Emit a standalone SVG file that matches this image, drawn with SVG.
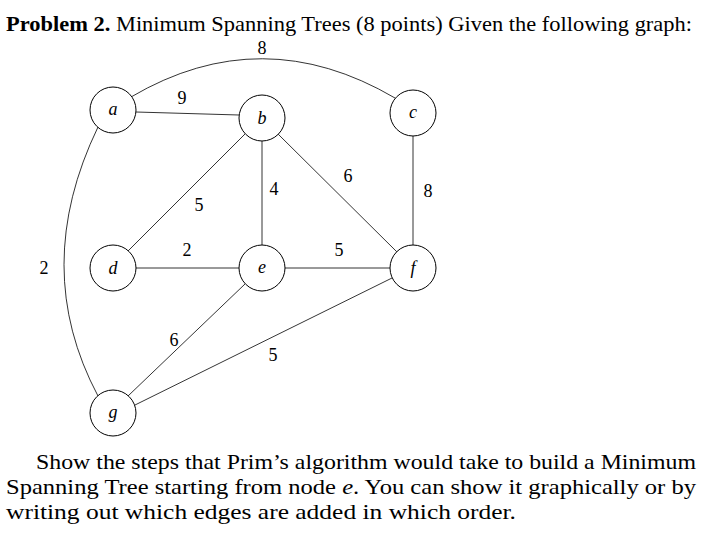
<svg xmlns="http://www.w3.org/2000/svg" width="708" height="538" viewBox="0 0 708 538">
<style>
text{font-family:"Liberation Serif",serif;fill:#000}
.t{font-size:21px}
.l{font-size:18px}
.n{font-size:18px;font-style:italic}
circle{fill:#fff;stroke:#000;stroke-width:1}
.e line,.e path{stroke:#000;stroke-width:0.8;fill:none}
</style>
<rect width="708" height="538" fill="#fff"/>
<text class="t" x="6" y="31" textLength="686" lengthAdjust="spacingAndGlyphs"><tspan font-weight="bold">Problem 2.</tspan> Minimum Spanning Trees (8 points) Given the following graph:</text>
<g class="e" id="edges">
<path d="M131,97 Q262,20 395,98"/>
<path d="M98,127 Q30,268 98,396"/>
<line x1="136" y1="112" x2="239" y2="115"/>
<line x1="245" y1="134" x2="128" y2="251"/>
<line x1="262" y1="141" x2="262" y2="245"/>
<line x1="278" y1="134" x2="397" y2="252"/>
<line x1="413" y1="136" x2="413" y2="245"/>
<line x1="136" y1="268" x2="239" y2="268"/>
<line x1="285" y1="268" x2="390" y2="268"/>
<line x1="245" y1="284" x2="128" y2="396"/>
<line x1="392" y1="278" x2="135" y2="405"/>
</g>
<g id="labels">
<text class="l" x="262" y="54" text-anchor="middle">8</text>
<text class="l" x="182" y="104" text-anchor="middle">9</text>
<text class="l" x="199" y="211" text-anchor="middle">5</text>
<text class="l" x="274" y="195" text-anchor="middle">4</text>
<text class="l" x="348" y="182" text-anchor="middle">6</text>
<text class="l" x="428" y="197" text-anchor="middle">8</text>
<text class="l" x="187" y="256" text-anchor="middle">2</text>
<text class="l" x="339" y="256" text-anchor="middle">5</text>
<text class="l" x="44" y="274" text-anchor="middle">2</text>
<text class="l" x="174" y="346" text-anchor="middle">6</text>
<text class="l" x="273" y="361" text-anchor="middle">5</text>
</g>
<g id="a"><circle cx="113" cy="110" r="23"/><text class="n" x="113" y="115" text-anchor="middle">a</text></g>
<g id="b"><circle cx="262" cy="118" r="23"/><text class="n" x="262" y="124" text-anchor="middle">b</text></g>
<g id="c"><circle cx="413" cy="113" r="23"/><text class="n" x="413" y="118" text-anchor="middle">c</text></g>
<g id="d"><circle cx="113" cy="268" r="23"/><text class="n" x="113" y="274" text-anchor="middle">d</text></g>
<g id="e"><circle cx="262" cy="268" r="23"/><text class="n" x="262" y="273" text-anchor="middle">e</text></g>
<g id="f"><circle cx="413" cy="268" r="23"/><text class="n" x="413" y="274" text-anchor="middle">f</text></g>
<g id="g"><circle cx="113" cy="413" r="23"/><text class="n" x="113" y="418" text-anchor="middle">g</text></g>
<text class="t" x="36" y="469" textLength="660" lengthAdjust="spacingAndGlyphs">Show the steps that Prim’s algorithm would take to build a Minimum</text>
<text class="t" x="6" y="494" textLength="690" lengthAdjust="spacingAndGlyphs">Spanning Tree starting from node <tspan font-style="italic">e</tspan>.  You can show it graphically or by</text>
<text class="t" x="6" y="519" textLength="510" lengthAdjust="spacingAndGlyphs">writing out which edges are added in which order.</text>
</svg>
